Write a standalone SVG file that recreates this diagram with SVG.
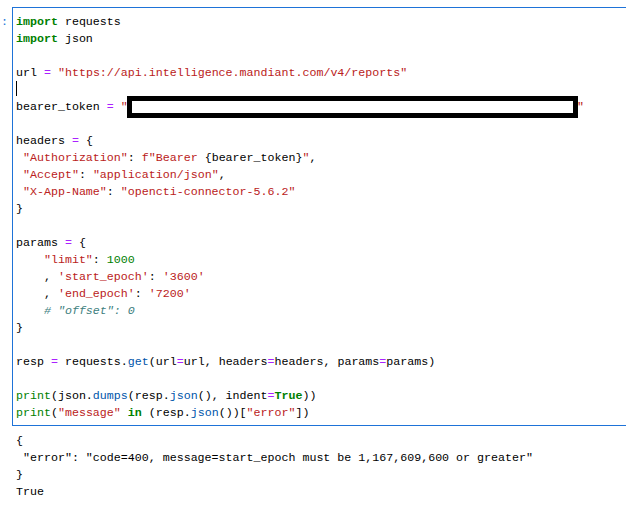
<svg xmlns="http://www.w3.org/2000/svg" width="626" height="507" viewBox="0 0 626 507">
<style>
text{font-family:"Liberation Mono","DejaVu Sans Mono",monospace;font-size:11.65px;fill:#000;white-space:pre}
.k{fill:#008000;font-weight:bold}.s{fill:#BA2121}.o{fill:#AA22FF}.f{fill:#0055AA}.n{fill:#008000}.c{fill:#408080;font-style:italic}
</style>
<rect width="626" height="507" fill="#fff"/>
<g id="cell">
<rect x="12.5" y="7.5" width="620" height="418" fill="#fff" stroke="#1E73D8" stroke-width="1"/>
<text x="1" y="25" fill="#1E73D8" style="fill:#1E73D8">:</text>
</g>
<g id="code" xml:space="preserve">
<text x="16" y="25"><tspan class="k">import</tspan> requests</text>
<text x="16" y="42"><tspan class="k">import</tspan> json</text>
<text x="16" y="76">url <tspan class="o">=</tspan> <tspan class="s">"https://api.intelligence.mandiant.com/v4/reports"</tspan></text>
<line x1="16.5" y1="81" x2="16.5" y2="96" stroke="#000"/>
<text x="16" y="110">bearer_token <tspan class="o">=</tspan> <tspan class="s">"</tspan></text>
<rect x="129.5" y="98.5" width="446" height="17" fill="#fff" stroke="#000" stroke-width="5"/>
<text x="577" y="110" class="s">"</text>
<text x="16" y="144">headers <tspan class="o">=</tspan> {</text>
<text x="16" y="161"> <tspan class="s">"Authorization"</tspan>: <tspan class="s">f"Bearer </tspan>{bearer_token}<tspan class="s">"</tspan>,</text>
<text x="16" y="178"> <tspan class="s">"Accept"</tspan>: <tspan class="s">"application/json"</tspan>,</text>
<text x="16" y="195"> <tspan class="s">"X-App-Name"</tspan>: <tspan class="s">"opencti-connector-5.6.2"</tspan></text>
<text x="16" y="212">}</text>
<text x="16" y="246">params <tspan class="o">=</tspan> {</text>
<text x="16" y="263">    <tspan class="s">"limit"</tspan>: <tspan class="n">1000</tspan></text>
<text x="16" y="280">    , <tspan class="s">'start_epoch'</tspan>: <tspan class="s">'3600'</tspan></text>
<text x="16" y="297">    , <tspan class="s">'end_epoch'</tspan>: <tspan class="s">'7200'</tspan></text>
<text x="16" y="314">    <tspan class="c"># "offset": 0</tspan></text>
<text x="16" y="331">}</text>
<text x="16" y="365">resp <tspan class="o">=</tspan> requests.<tspan class="f">get</tspan>(url<tspan class="o">=</tspan>url, headers<tspan class="o">=</tspan>headers, params<tspan class="o">=</tspan>params)</text>
<text x="16" y="399"><tspan class="n">print</tspan>(json.<tspan class="f">dumps</tspan>(resp.<tspan class="f">json</tspan>(), indent<tspan class="o">=</tspan><tspan class="k">True</tspan>))</text>
<text x="16" y="416"><tspan class="n">print</tspan>(<tspan class="s">"message"</tspan> <tspan class="k">in</tspan> (resp.<tspan class="f">json</tspan>())[<tspan class="s">"error"</tspan>])</text>
</g>
<g id="output" xml:space="preserve">
<text x="16" y="444">{</text>
<text x="16" y="461"> "error": "code=400, message=start_epoch must be 1,167,609,600 or greater"</text>
<text x="16" y="478">}</text>
<text x="16" y="495">True</text>
</g>
</svg>
